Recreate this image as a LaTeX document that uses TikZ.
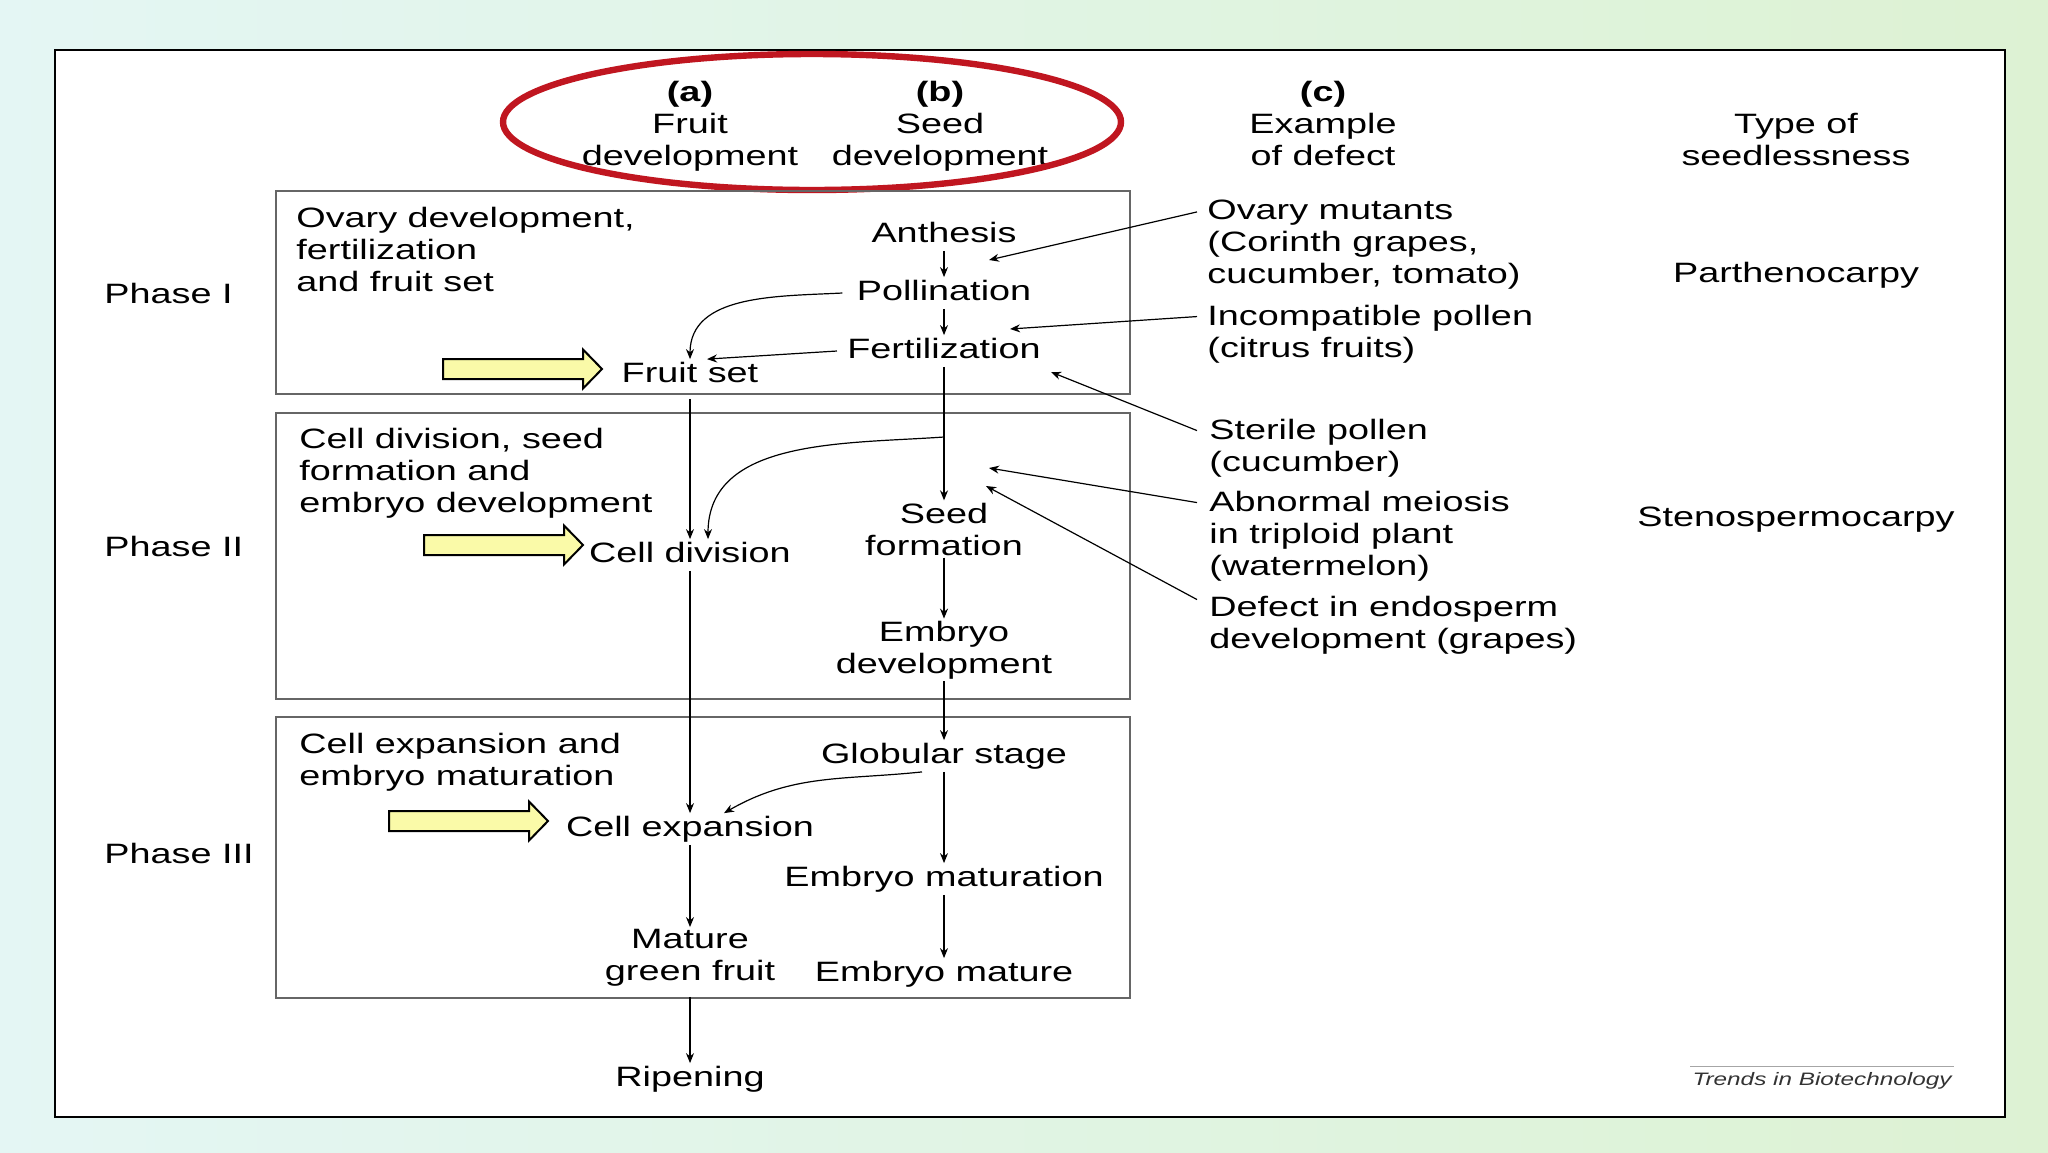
\documentclass[tikz,border=0pt]{standalone}
\usepackage{fontspec}
\setmainfont{Liberation Sans}[FakeStretch=1.35]
\usetikzlibrary{arrows.meta}
\definecolor{bgL}{RGB}{228,246,244}
\definecolor{bgR}{RGB}{221,242,211}
\definecolor{ovalred}{RGB}{192,22,32}
\definecolor{yarrfill}{RGB}{250,250,168}
\tikzset{
  t/.style={font=\fontsize{14}{16}\selectfont, inner sep=1pt, text height=10.5pt, text depth=3pt, yshift=-2pt},
  tm/.style={font=\fontsize{14}{16}\selectfont, inner sep=1pt, align=center, yshift=-2pt},
  tl/.style={font=\fontsize{14}{16}\selectfont, inner sep=0pt, align=left, anchor=west, yshift=-2pt},
  phasebox/.style={draw=black!60, line width=0.8pt},
  con/.style={-{Stealth[length=5pt,width=4pt]}, line width=0.6pt},
  yarr/.style={fill=yarrfill, draw=black, line width=1pt, line join=miter}
}
\newcommand\yarrowat[2]{%
  \draw[yarr] (#1,#2-10) -- (#1+140,#2-10) -- (#1+140,#2-19.5) -- (#1+159,#2)
    -- (#1+140,#2+19.5) -- (#1+140,#2+10) -- (#1,#2+10) -- cycle;}
\begin{document}
\begin{tikzpicture}[x=0.5pt,y=-0.5pt]
\useasboundingbox (0,0) rectangle (2048,1152);
\shade[left color=bgL, right color=bgR] (0,0) rectangle (2048,1152);
\draw[fill=white, line width=1pt] (55,50) rectangle (2005,1117);

% header
\node[tm] (hdA) at (690,122) {\textbf{(a)}\\Fruit\\development};
\node[tm] (hdB) at (940,122) {\textbf{(b)}\\Seed\\development};
\node[tm] (hdC) at (1323,119) {\textbf{(c)}\\Example\\of defect};
\node[tm] (hdD) at (1796,135) {Type of\\seedlessness};
\draw[ovalred, line width=3.2pt] (812,122) ellipse [x radius=309, y radius=68];

% phase boxes
\draw[phasebox] (276,191) rectangle (1130,394);
\draw[phasebox] (276,413) rectangle (1130,699);
\draw[phasebox] (276,717) rectangle (1130,998);

\node[tl] (ph1) at (104,289) {Phase I};
\node[tl] (ph2) at (104,542) {Phase II};
\node[tl] (ph3) at (104,849) {Phase III};

\node[tl] (d1) at (296,245) {Ovary development,\\fertilization\\and fruit set};
\node[tl] (d2) at (299,469) {Cell division, seed\\formation and\\embryo development};
\node[tl] (d3) at (299,758) {Cell expansion and\\embryo maturation};

% yellow arrows
\yarrowat{443}{369}
\yarrowat{424}{545}
\yarrowat{389}{821}

% flow nodes
\node[t] (anth) at (944,231) {Anthesis};
\node[t] (poll) at (944,289) {Pollination};
\node[t] (fert) at (944,347) {Fertilization};
\node[t] (fset) at (690,371) {Fruit set};
\node[t] (cdiv) at (690,551) {Cell division};
\node[tm] (seedf) at (944,525) {Seed\\formation};
\node[tm] (embd) at (944,646) {Embryo\\development};
\node[t] (glob) at (944,752) {Globular stage};
\node[t] (cexp) at (690,825) {Cell expansion};
\node[t] (embm) at (944,875) {Embryo maturation};
\node[tm] (mgf) at (690,954) {Mature\\green fruit};
\node[t] (embmat) at (944,970) {Embryo mature};
\node[t] (ripe) at (690,1075) {Ripening};

% right columns
\node[tl] (c1) at (1207,241) {Ovary mutants\\(Corinth grapes,\\cucumber, tomato)};
\node[tl] (c2) at (1207,330) {Incompatible pollen\\(citrus fruits)};
\node[tl] (c3) at (1209,444) {Sterile pollen\\(cucumber)};
\node[tl] (c4) at (1209,532) {Abnormal meiosis\\in triploid plant\\(watermelon)};
\node[tl] (c5) at (1209,621) {Defect in endosperm\\development (grapes)};
\node[t] (par) at (1796,271) {Parthenocarpy};
\node[t] (sten) at (1796,515) {Stenospermocarpy};

\node[font=\fontsize{9}{10}\selectfont\itshape, text=black!80, inner sep=1pt] (tib) at (1822,1081) {Trends in Biotechnology};
\draw[black!35, line width=0.5pt] ([yshift=2pt]tib.north west) -- ([yshift=2pt]tib.north east);

% flow connectors
\draw[con] (anth) -- (poll);
\draw[con] (poll) -- (fert);
\draw[con] (fert) -- (seedf);
\coordinate (br) at (944,437);
\draw[con] (br) to[out=184,in=90] ([xshift=9pt]cdiv.north);
\draw[con] ([xshift=-6pt]poll.west) to[out=183,in=90] (fset.north);
\draw[con] ([xshift=-4pt]fert.west) -- ([xshift=8.5pt]fset.north);
\draw[con, shorten <=4pt] (fset) -- (cdiv);
\draw[con] (cdiv) -- (cexp);
\draw[con] (seedf) -- (embd);
\draw[con] (embd) -- (glob);
\draw[con] (glob) -- (embm);
\draw[con] (embm) -- (embmat);
\draw[con] (cexp) -- (mgf);
\draw[con, shorten <=4pt] (mgf) -- (ripe);
\draw[con] ([xshift=-11pt]glob.south) to[out=186,in=30] ([xshift=17pt]cexp.north);

% defect connectors
\coordinate (e1) at (989,260);
\coordinate (e2) at (1010,329);
\coordinate (e3) at (1051,372);
\coordinate (e4) at (989,468);
\coordinate (e5) at (986,486);
\draw[con] ([shift={(-5pt,-6pt)}]c1.north west) -- (e1);
\draw[con] ([shift={(-5pt,-6pt)}]c2.north west) -- (e2);
\draw[con] ([shift={(-6pt,-6pt)}]c3.north west) -- (e3);
\draw[con] ([shift={(-6pt,-6pt)}]c4.north west) -- (e4);
\draw[con] ([shift={(-6pt,-2pt)}]c5.north west) -- (e5);
\end{tikzpicture}
\end{document}
